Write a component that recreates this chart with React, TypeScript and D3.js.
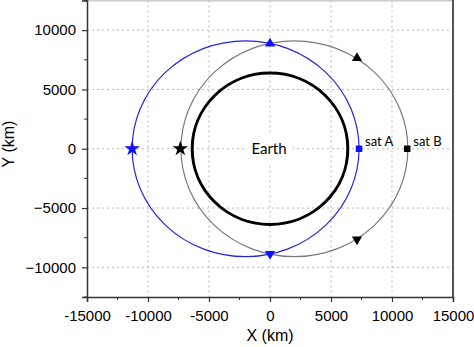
import React, { useEffect, useRef } from "react";
import * as d3 from "d3";

// axis ticks (km)
const xTicks = [-15000, -10000, -5000, 0, 5000, 10000, 15000];
const yTicks = [-10000, -5000, 0, 5000, 10000];
const xMinor = [-12500, -7500, -2500, 2500, 7500, 12500];
const yMinor = [-12500, -7500, -2500, 2500, 7500, 12500];

// orbits: ellipse center x, semi axes (km)
const orbitCenterX = [-2000, 2000];
const orbitSemiX = [9300, 9300];
const orbitSemiY = [9100, 9100];
const orbitColors = ["#2626d6", "#7a7a7a"];

const earthRadius = 6378;

// markers
const markerX = [-11300, -7350, 7300, 11250, 0, 0, 7130, 7130];
const markerY = [0, 0, 0, 0, 8870, -8870, 7650, -7650];
const markerShape = ["star", "star", "square", "square", "up", "down", "up", "down"];
const markerColor = ["#1010ff", "#000", "#1010ff", "#000", "#1010ff", "#1010ff", "#000", "#000"];

const satLabels = ["sat A", "sat B"];
const satLabelX = [7300, 11250];

function App() {
  const svgRef = useRef();

  useEffect(() => {
    document.body.style.margin = "0";
    const width = 474;
    const height = 347;
    const margin = { top: 0.5, right: 21, bottom: 50, left: 87 };

    d3.select(svgRef.current).selectAll("*").remove();
    const svg = d3.select(svgRef.current).attr("width", width).attr("height", height);

    const x = d3.scaleLinear().domain([-15000, 15000]).range([margin.left, width - margin.right]);
    const y = d3.scaleLinear().domain([-12500, 12500]).range([height - margin.bottom, margin.top]);

    // gridlines
    svg
      .append("g")
      .selectAll("line")
      .data(xTicks.slice(1, -1))
      .join("line")
      .attr("x1", (d) => x(d))
      .attr("x2", (d) => x(d))
      .attr("y1", y(12500))
      .attr("y2", y(-12500))
      .attr("stroke", "#b8b8b8")
      .attr("stroke-dasharray", "2,3");
    svg
      .append("g")
      .selectAll("line")
      .data(yTicks)
      .join("line")
      .attr("x1", x(-15000))
      .attr("x2", x(15000))
      .attr("y1", (d) => y(d))
      .attr("y2", (d) => y(d))
      .attr("stroke", "#b8b8b8")
      .attr("stroke-dasharray", "2,3");

    // Earth
    svg
      .append("ellipse")
      .attr("cx", x(0))
      .attr("cy", y(0))
      .attr("rx", x(earthRadius) - x(0))
      .attr("ry", y(0) - y(earthRadius))
      .attr("fill", "none")
      .attr("stroke", "#000")
      .attr("stroke-width", 3);

    // orbits
    svg
      .append("g")
      .selectAll("ellipse")
      .data(orbitCenterX)
      .join("ellipse")
      .attr("cx", (d) => x(d))
      .attr("cy", y(0))
      .attr("rx", (d, i) => x(orbitSemiX[i]) - x(0))
      .attr("ry", (d, i) => y(0) - y(orbitSemiY[i]))
      .attr("fill", "none")
      .attr("stroke", (d, i) => orbitColors[i])
      .attr("stroke-width", 1.2);

    // Earth label with white box
    svg
      .append("rect")
      .attr("x", x(0) - 23)
      .attr("y", y(0) - 16)
      .attr("width", 46)
      .attr("height", 33)
      .attr("fill", "#fff");
    svg
      .append("text")
      .attr("x", x(0) - 1)
      .attr("y", y(0) + 5)
      .attr("text-anchor", "middle")
      .style("font-family", "Lato, 'Open Sans', sans-serif")
      .style("font-size", "15px")
      .text("Earth");

    // markers
    const shapeOf = { star: d3.symbolStar, square: d3.symbolSquare, up: d3.symbolTriangle, down: d3.symbolTriangle };
    const sizeOf = { star: 75, square: 42, up: 45, down: 45 };
    svg
      .append("g")
      .selectAll("path")
      .data(markerX)
      .join("path")
      .attr("d", (d, i) => d3.symbol(shapeOf[markerShape[i]], sizeOf[markerShape[i]])())
      .attr(
        "transform",
        (d, i) =>
          `translate(${x(d)},${y(markerY[i])})` + (markerShape[i] === "down" ? " rotate(180)" : "")
      )
      .attr("fill", (d, i) => markerColor[i]);

    // sat labels
    svg
      .append("g")
      .selectAll("text")
      .data(satLabels)
      .join("text")
      .attr("x", (d, i) => x(satLabelX[i]) + 6)
      .attr("y", y(0) - 3)
      .style("font-family", "Lato, 'Open Sans', sans-serif")
      .style("font-size", "13px")
      .text((d) => d);

    // frame
    svg
      .append("line")
      .attr("x1", x(-15000))
      .attr("x2", x(15000))
      .attr("y1", y(12500))
      .attr("y2", y(12500))
      .attr("stroke", "#ccc")
      .attr("stroke-width", 2);
    svg
      .append("line")
      .attr("x1", x(15000))
      .attr("x2", x(15000))
      .attr("y1", 0)
      .attr("y2", y(-12500))
      .attr("stroke", "#555")
      .attr("stroke-width", 2);

    // axes
    const xAxis = svg
      .append("g")
      .attr("transform", `translate(0,${y(-12500)})`)
      .call(d3.axisBottom(x).tickValues(xTicks).tickSize(5).tickPadding(8).tickFormat(d3.format("d")));
    const yAxis = svg
      .append("g")
      .attr("transform", `translate(${x(-15000)},0)`)
      .call(d3.axisLeft(y).tickValues(yTicks).tickSize(5).tickPadding(6).tickFormat(d3.format("d")));
    [xAxis, yAxis].forEach((g) => {
      g.select(".domain").attr("stroke", "#333").attr("stroke-width", 1.5);
      g.selectAll(".tick line").attr("stroke", "#333").attr("stroke-width", 1.2);
      g.selectAll("text")
        .attr("fill", "#000")
        .style("font-family", "'Liberation Sans', Arial, sans-serif")
        .style("font-size", "15px");
    });
    xAxis.selectAll("text").text((d) => String(d).replace("-", "-"));

    svg
      .append("g")
      .selectAll("line")
      .data(xMinor)
      .join("line")
      .attr("x1", (d) => x(d))
      .attr("x2", (d) => x(d))
      .attr("y1", y(-12500))
      .attr("y2", y(-12500) + 3)
      .attr("stroke", "#333");
    svg
      .append("g")
      .selectAll("line")
      .data(yMinor)
      .join("line")
      .attr("x1", x(-15000) - 3)
      .attr("x2", x(-15000))
      .attr("y1", (d) => y(d))
      .attr("y2", (d) => y(d))
      .attr("stroke", "#333");

    // axis titles
    svg
      .append("text")
      .attr("x", x(0))
      .attr("y", 341)
      .attr("text-anchor", "middle")
      .style("font-family", "'Liberation Sans', Arial, sans-serif")
      .style("font-size", "16px")
      .text("X (km)");
    svg
      .append("text")
      .attr("transform", "rotate(-90)")
      .attr("x", -144)
      .attr("y", 14)
      .attr("text-anchor", "middle")
      .style("font-family", "'Liberation Sans', Arial, sans-serif")
      .style("font-size", "16px")
      .text("Y (km)");
  }, []);

  return <svg ref={svgRef} style={{ display: "block" }}></svg>;
}

export default App;
